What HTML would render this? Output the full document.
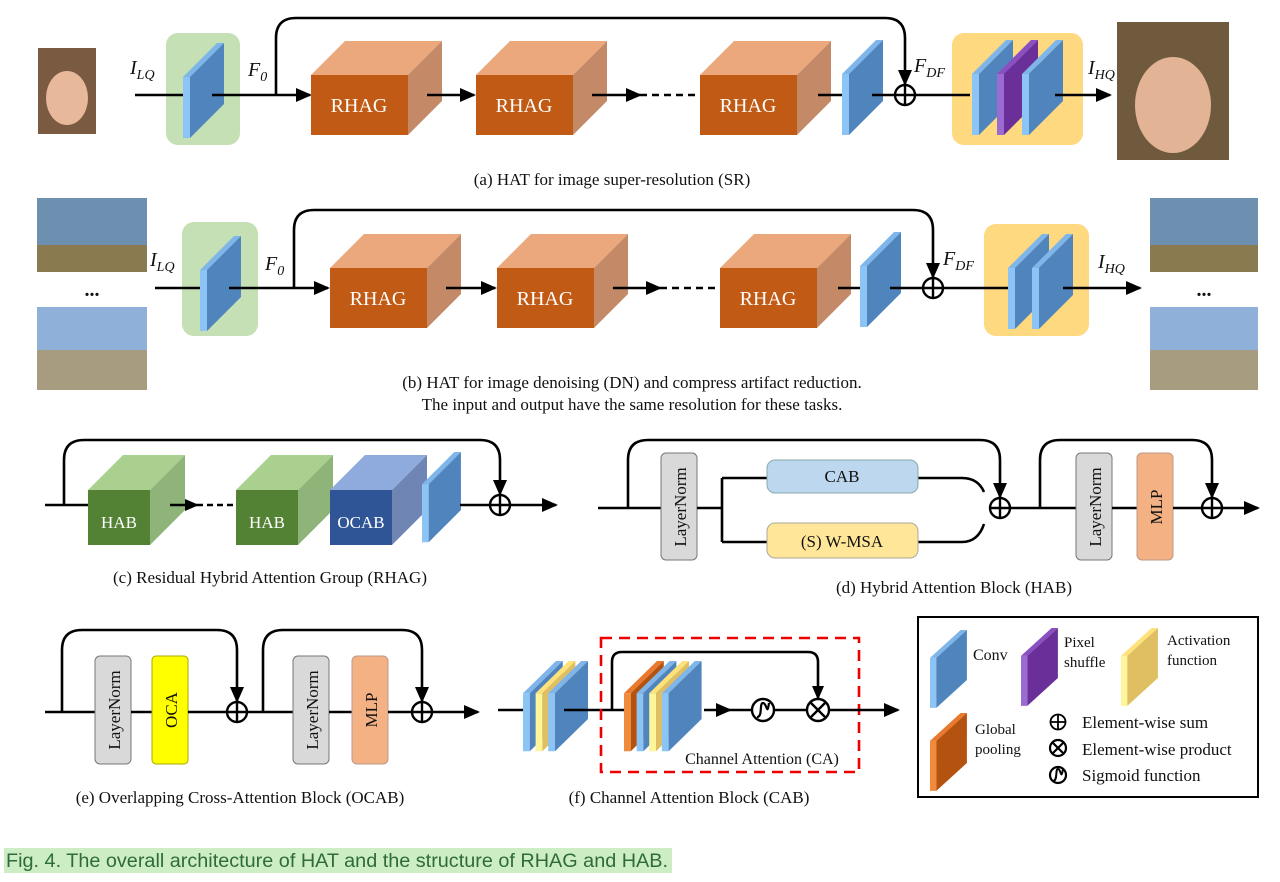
<!DOCTYPE html>
<html><head><meta charset="utf-8"><style>
body{margin:0;background:#fff;width:1280px;height:882px;overflow:hidden}
svg{display:block}
text{font-family:"Liberation Serif",serif;fill:#111}
.s{stroke:#000;stroke-width:2.6;fill:none}
</style></head><body>
<svg width="1280" height="882" viewBox="0 0 1280 882">
<defs>
<marker id="a" markerWidth="14" markerHeight="12" refX="12" refY="6" orient="auto" markerUnits="userSpaceOnUse"><path d="M0,0 L14,6 L0,12 z" fill="#000"/></marker>
<marker id="b" markerWidth="16" markerHeight="14" refX="14" refY="7" orient="auto" markerUnits="userSpaceOnUse"><path d="M0,0 L16,7 L0,14 z" fill="#000"/></marker>
<symbol id="p" overflow="visible"><polygon points="0,34 34,0 41,0 7,34" style="fill:var(--t)"/><polygon points="0,34 7,34 7,95 0,95" style="fill:var(--l)"/><polygon points="7,34 41,0 41,61 7,95" style="fill:var(--d)"/></symbol>
<symbol id="c" overflow="visible"><polygon points="0,34 34,0 131,0 97,34" style="fill:var(--t)"/><polygon points="97,34 131,0 131,60 97,94" style="fill:var(--sd)"/><rect x="0" y="34" width="97" height="60" style="fill:var(--f)"/></symbol>
<symbol id="cs" overflow="visible"><polygon points="0,35 35,0 97,0 62,35" style="fill:var(--t)"/><polygon points="62,35 97,0 97,55 62,90" style="fill:var(--sd)"/><rect x="0" y="35" width="62" height="55" style="fill:var(--f)"/></symbol>
<g id="plus"><circle r="10" fill="#fff" stroke="#000" stroke-width="2.4"/><path d="M-10,0H10M0,-10V10" stroke="#000" stroke-width="2.4"/></g>
</defs>
<style>
.bl{--t:#7fb6ea;--l:#8cc4f5;--d:#4f84bd}
.pu{--t:#8a4fc0;--l:#9a6bd0;--d:#6a2f98}
.ye{--t:#ffe27a;--l:#fff59a;--d:#dfbf62}
.or{--t:#e8792e;--l:#f08a3c;--d:#b4520f}
.rh{--t:#eaa87c;--sd:#c48a68;--f:#c05a14}
.ha{--t:#a9d08e;--sd:#8fb47a;--f:#548235}
.oc{--t:#8faadc;--sd:#6f86b5;--f:#2f5597}
</style>

<!-- (a) -->
<rect x="38" y="48" width="58" height="86" fill="#7a5a40"/>
<ellipse cx="67" cy="98" rx="21" ry="27" fill="#e8b89a"/>
<rect x="166" y="33" width="74" height="112" rx="12" fill="#c5e0b4"/>
<text x="130" y="74" font-size="20" font-style="italic">I<tspan font-size="14" dy="5">LQ</tspan></text>
<path class="s" d="M135,95H183"/><use href="#p" x="183" y="43" class="bl"/>
<path class="s" d="M212,95H310" marker-end="url(#b)"/>
<text x="248" y="76" font-size="20" font-style="italic">F<tspan font-size="14" dy="5">0</tspan></text>
<path class="s" d="M276,95V38Q276,18 296,18H885Q905,18 905,38V84" marker-end="url(#b)"/>
<use href="#c" x="311" y="41" class="rh"/><text x="359" y="112" font-size="20" text-anchor="middle" style="fill:#fff">RHAG</text>
<path class="s" d="M427,95H474" marker-end="url(#b)"/>
<use href="#c" x="476" y="41" class="rh"/><text x="524" y="112" font-size="20" text-anchor="middle" style="fill:#fff">RHAG</text>
<path class="s" d="M592,95H640" marker-end="url(#b)"/><path class="s" d="M640,95H700" stroke-dasharray="7,5"/>
<use href="#c" x="700" y="41" class="rh"/><text x="748" y="112" font-size="20" text-anchor="middle" style="fill:#fff">RHAG</text>
<path class="s" d="M818,95H842"/><use href="#p" x="842" y="40" class="bl"/>
<path class="s" d="M872,95H895"/><use href="#plus" x="905" y="95"/>
<text x="914" y="72" font-size="20" font-style="italic">F<tspan font-size="14" dy="5">DF</tspan></text>
<rect x="952" y="33" width="131" height="112" rx="12" fill="#ffd97f"/>
<path class="s" d="M915,95H970"/>
<use href="#p" x="972" y="40" class="bl"/><use href="#p" x="997" y="40" class="pu"/><use href="#p" x="1022" y="40" class="bl"/>
<path class="s" d="M1055,95H1110" marker-end="url(#b)"/>
<text x="1088" y="74" font-size="20" font-style="italic">I<tspan font-size="14" dy="5">HQ</tspan></text>
<rect x="1117" y="22" width="112" height="138" fill="#6f5a3e"/>
<ellipse cx="1173" cy="105" rx="38" ry="48" fill="#e2b394"/>
<text x="612" y="185" font-size="17" text-anchor="middle">(a) HAT for image super-resolution (SR)</text>

<!-- (b) -->
<rect x="37" y="198" width="110" height="74" fill="#6d8fb0"/><rect x="37" y="245" width="110" height="27" fill="#8a7a50"/>
<text x="92" y="296" font-size="20" text-anchor="middle" font-weight="bold">...</text>
<rect x="37" y="307" width="110" height="83" fill="#8fb0d8"/><rect x="37" y="350" width="110" height="40" fill="#a89c80"/>
<rect x="182" y="222" width="76" height="114" rx="12" fill="#c5e0b4"/>
<text x="150" y="266" font-size="20" font-style="italic">I<tspan font-size="14" dy="5">LQ</tspan></text>
<path class="s" d="M155,288H200"/><use href="#p" x="200" y="236" class="bl"/>
<path class="s" d="M229,288H328" marker-end="url(#b)"/>
<text x="265" y="270" font-size="20" font-style="italic">F<tspan font-size="14" dy="5">0</tspan></text>
<path class="s" d="M294,288V230Q294,210 314,210H913Q933,210 933,230V277" marker-end="url(#b)"/>
<use href="#c" x="330" y="234" class="rh"/><text x="378" y="305" font-size="20" text-anchor="middle" style="fill:#fff">RHAG</text>
<path class="s" d="M446,288H495" marker-end="url(#b)"/>
<use href="#c" x="497" y="234" class="rh"/><text x="545" y="305" font-size="20" text-anchor="middle" style="fill:#fff">RHAG</text>
<path class="s" d="M613,288H660" marker-end="url(#b)"/><path class="s" d="M660,288H720" stroke-dasharray="7,5"/>
<use href="#c" x="720" y="234" class="rh"/><text x="768" y="305" font-size="20" text-anchor="middle" style="fill:#fff">RHAG</text>
<path class="s" d="M838,288H860"/><use href="#p" x="860" y="232" class="bl"/>
<path class="s" d="M890,288H923"/><use href="#plus" x="933" y="288"/>
<text x="943" y="265" font-size="20" font-style="italic">F<tspan font-size="14" dy="5">DF</tspan></text>
<rect x="984" y="224" width="105" height="112" rx="12" fill="#ffd97f"/>
<path class="s" d="M943,288H1008"/>
<use href="#p" x="1008" y="234" class="bl"/><use href="#p" x="1032" y="234" class="bl"/>
<path class="s" d="M1063,288H1140" marker-end="url(#b)"/>
<text x="1098" y="268" font-size="20" font-style="italic">I<tspan font-size="14" dy="5">HQ</tspan></text>
<rect x="1150" y="198" width="108" height="74" fill="#6d8fb0"/><rect x="1150" y="245" width="108" height="27" fill="#8a7a50"/>
<text x="1204" y="296" font-size="20" text-anchor="middle" font-weight="bold">...</text>
<rect x="1150" y="307" width="108" height="83" fill="#8fb0d8"/><rect x="1150" y="350" width="108" height="40" fill="#a89c80"/>
<text x="632" y="388" font-size="17" text-anchor="middle">(b) HAT for image denoising (DN) and compress artifact reduction.</text>
<text x="632" y="410" font-size="17" text-anchor="middle">The input and output have the same resolution for these tasks.</text>

<!-- (c) -->
<path class="s" d="M45,505H88"/>
<path class="s" d="M64,505V460Q64,440 84,440H480Q500,440 500,460V494" marker-end="url(#b)"/>
<use href="#cs" x="88" y="455" class="ha"/><text x="119" y="528" font-size="17" text-anchor="middle" style="fill:#fff">HAB</text>
<path class="s" d="M170,505H197" marker-end="url(#a)"/><path class="s" d="M197,505H236" stroke-dasharray="6,4"/>
<use href="#cs" x="236" y="455" class="ha"/><text x="267" y="528" font-size="17" text-anchor="middle" style="fill:#fff">HAB</text>
<use href="#cs" x="330" y="455" class="oc"/><text x="361" y="528" font-size="17" text-anchor="middle" style="fill:#fff">OCAB</text>
<g transform="translate(422,452) scale(0.95)"><use href="#p" class="bl"/></g>
<path class="s" d="M460,505H490"/><use href="#plus" x="500" y="505"/>
<path class="s" d="M510,505H556" marker-end="url(#b)"/>
<text x="270" y="583" font-size="17" text-anchor="middle">(c) Residual Hybrid Attention Group (RHAG)</text>

<!-- (d) -->
<path class="s" d="M598,508H661"/>
<path class="s" d="M628,508V460Q628,440 648,440H980Q1000,440 1000,460V497" marker-end="url(#b)"/>
<rect x="661" y="453" width="36" height="107" rx="5" fill="#d9d9d9" stroke="#777"/>
<text transform="translate(686,507) rotate(-90)" font-size="17" text-anchor="middle">LayerNorm</text>
<path class="s" d="M697,508H722M722,478V542M722,478H767M722,542H767M918,478H962Q978,478 984,492M918,542H962Q978,542 984,524"/>
<rect x="767" y="460" width="151" height="33" rx="8" fill="#bdd7ee" stroke="#8aa"/>
<text x="842" y="482" font-size="17" text-anchor="middle">CAB</text>
<rect x="767" y="523" width="151" height="35" rx="8" fill="#ffe699" stroke="#aa9"/>
<text x="842" y="547" font-size="17" text-anchor="middle">(S) W-MSA</text>
<use href="#plus" x="1000" y="508"/>
<path class="s" d="M1010,508H1076"/>
<path class="s" d="M1040,508V460Q1040,440 1060,440H1192Q1212,440 1212,460V497" marker-end="url(#b)"/>
<rect x="1076" y="453" width="36" height="107" rx="5" fill="#d9d9d9" stroke="#777"/>
<text transform="translate(1101,507) rotate(-90)" font-size="17" text-anchor="middle">LayerNorm</text>
<path class="s" d="M1112,508H1137"/>
<rect x="1137" y="453" width="36" height="107" rx="5" fill="#f4b183" stroke="#b98"/>
<text transform="translate(1162,507) rotate(-90)" font-size="17" text-anchor="middle">MLP</text>
<path class="s" d="M1173,508H1202"/><use href="#plus" x="1212" y="508"/>
<path class="s" d="M1222,508H1258" marker-end="url(#b)"/>
<text x="954" y="593" font-size="17" text-anchor="middle">(d) Hybrid Attention Block (HAB)</text>

<!-- (e) -->
<path class="s" d="M45,712H95"/>
<path class="s" d="M62,712V650Q62,630 82,630H217Q237,630 237,650V701" marker-end="url(#b)"/>
<rect x="95" y="656" width="36" height="108" rx="5" fill="#d9d9d9" stroke="#777"/>
<text transform="translate(120,710) rotate(-90)" font-size="17" text-anchor="middle">LayerNorm</text>
<path class="s" d="M131,712H152"/>
<rect x="152" y="656" width="36" height="108" rx="4" fill="#ffff00" stroke="#aa0"/>
<text transform="translate(177,710) rotate(-90)" font-size="17" text-anchor="middle">OCA</text>
<path class="s" d="M188,712H227"/><use href="#plus" x="237" y="712"/>
<path class="s" d="M247,712H293"/>
<path class="s" d="M263,712V650Q263,630 283,630H402Q422,630 422,650V701" marker-end="url(#b)"/>
<rect x="293" y="656" width="36" height="108" rx="5" fill="#d9d9d9" stroke="#777"/>
<text transform="translate(318,710) rotate(-90)" font-size="17" text-anchor="middle">LayerNorm</text>
<path class="s" d="M329,712H352"/>
<rect x="352" y="656" width="36" height="108" rx="5" fill="#f4b183" stroke="#b98"/>
<text transform="translate(377,710) rotate(-90)" font-size="17" text-anchor="middle">MLP</text>
<path class="s" d="M388,712H412"/><use href="#plus" x="422" y="712"/>
<path class="s" d="M432,712H478" marker-end="url(#b)"/>
<text x="240" y="803" font-size="17" text-anchor="middle">(e) Overlapping Cross-Attention Block (OCAB)</text>

<!-- (f) -->
<path class="s" d="M498,710H523"/>
<g transform="translate(523,661) scale(0.97,0.95)"><use href="#p" class="bl"/><use href="#p" x="13" class="ye"/><use href="#p" x="26" class="bl"/></g>
<path class="s" d="M564,710H624"/>
<rect x="601" y="638" width="258" height="134" fill="none" stroke="#e00" stroke-width="2.6" stroke-dasharray="11,7"/>
<path class="s" d="M612,710V662Q612,652 622,652H808Q818,652 818,662V698" marker-end="url(#a)"/>
<g transform="translate(624,661) scale(0.97,0.95)"><use href="#p" class="or"/><use href="#p" x="13" class="bl"/><use href="#p" x="26" class="ye"/><use href="#p" x="39" class="bl"/></g>
<path class="s" d="M704,710H730" marker-end="url(#b)"/><path class="s" d="M728,710H752"/>
<circle cx="763" cy="710" r="11" fill="#fff" stroke="#000" stroke-width="2.4"/><path d="M757,717C763,717 759,703 763,703S767,717 769,703" stroke="#000" stroke-width="2.2" fill="none"/>
<path class="s" d="M774,710H807"/>
<circle cx="818" cy="710" r="11" fill="#fff" stroke="#000" stroke-width="2.4"/><path d="M810,702L826,718M826,702L810,718" stroke="#000" stroke-width="2.4"/>
<path class="s" d="M829,710H898" marker-end="url(#b)"/>
<text x="762" y="764" font-size="16" text-anchor="middle">Channel Attention (CA)</text>
<text x="689" y="803" font-size="17" text-anchor="middle">(f) Channel Attention Block (CAB)</text>

<!-- legend -->
<rect x="918" y="617" width="340" height="180" fill="none" stroke="#000" stroke-width="2"/>
<g transform="translate(930,630) scale(0.9,0.82)"><use href="#p" class="bl"/></g>
<text x="973" y="660" font-size="16">Conv</text>
<g transform="translate(1021,628) scale(0.9,0.82)"><use href="#p" class="pu"/></g>
<text x="1064" y="647" font-size="15">Pixel</text><text x="1064" y="667" font-size="15">shuffle</text>
<g transform="translate(1121,628) scale(0.9,0.82)"><use href="#p" class="ye"/></g>
<text x="1167" y="645" font-size="15">Activation</text><text x="1167" y="665" font-size="15">function</text>
<g transform="translate(930,713) scale(0.9,0.82)"><use href="#p" class="or"/></g>
<text x="975" y="734" font-size="15">Global</text><text x="975" y="754" font-size="15">pooling</text>
<g transform="translate(1058,722) scale(0.75)"><use href="#plus"/></g>
<text x="1082" y="728" font-size="17">Element-wise sum</text>
<circle cx="1058" cy="748" r="8" fill="#fff" stroke="#000" stroke-width="2.2"/><path d="M1052,742L1064,754M1064,742L1052,754" stroke="#000" stroke-width="2.2"/>
<text x="1082" y="755" font-size="17">Element-wise product</text>
<circle cx="1058" cy="775" r="8" fill="#fff" stroke="#000" stroke-width="2.2"/><path d="M1053,781C1058,781 1055,769 1058,769S1061,781 1063,769" stroke="#000" stroke-width="2" fill="none"/>
<text x="1082" y="781" font-size="17">Sigmoid function</text>

<rect x="4" y="848" width="668" height="25" fill="#cdeec4"/>
<text x="6" y="867" font-size="19" textLength="662" lengthAdjust="spacingAndGlyphs" style="font-family:'Liberation Sans',sans-serif;fill:#2f6b3a">Fig. 4. The overall architecture of HAT and the structure of RHAG and HAB.</text>
</svg>
</body></html>
